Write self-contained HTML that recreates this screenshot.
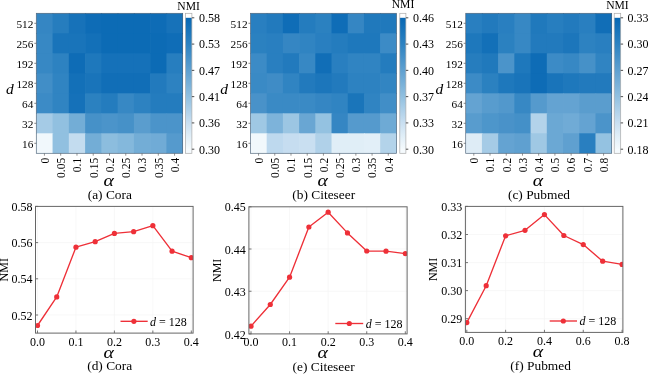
<!DOCTYPE html>
<html><head><meta charset="utf-8"><title>Figure</title>
<style>html,body{margin:0;padding:0;background:#fff}body{width:648px;height:374px;overflow:hidden}</style>
</head><body>
<svg width="648" height="374" viewBox="0 0 648 374" style="display:block;font-family:'Liberation Serif',serif" fill="#000">
<rect width="648" height="374" fill="#fff"/>
<g>
<clipPath id="h36"><rect x="36.30" y="13.30" width="146.40" height="140.00"/></clipPath>
<g clip-path="url(#h36)">
<rect x="36.30" y="13.30" width="16.97" height="20.70" fill="rgb(53,134,195)"/>
<rect x="52.57" y="13.30" width="16.97" height="20.70" fill="rgb(38,125,190)"/>
<rect x="68.83" y="13.30" width="16.97" height="20.70" fill="rgb(23,114,185)"/>
<rect x="85.10" y="13.30" width="16.97" height="20.70" fill="rgb(14,108,182)"/>
<rect x="101.37" y="13.30" width="16.97" height="20.70" fill="rgb(12,107,181)"/>
<rect x="117.63" y="13.30" width="16.97" height="20.70" fill="rgb(12,107,181)"/>
<rect x="133.90" y="13.30" width="16.97" height="20.70" fill="rgb(12,107,181)"/>
<rect x="150.17" y="13.30" width="16.97" height="20.70" fill="rgb(14,108,182)"/>
<rect x="166.43" y="13.30" width="16.97" height="20.70" fill="rgb(23,114,185)"/>
<rect x="36.30" y="33.30" width="16.97" height="20.70" fill="rgb(55,136,196)"/>
<rect x="52.57" y="33.30" width="16.97" height="20.70" fill="rgb(25,116,186)"/>
<rect x="68.83" y="33.30" width="16.97" height="20.70" fill="rgb(25,116,186)"/>
<rect x="85.10" y="33.30" width="16.97" height="20.70" fill="rgb(19,112,184)"/>
<rect x="101.37" y="33.30" width="16.97" height="20.70" fill="rgb(12,107,181)"/>
<rect x="117.63" y="33.30" width="16.97" height="20.70" fill="rgb(12,107,181)"/>
<rect x="133.90" y="33.30" width="16.97" height="20.70" fill="rgb(12,107,181)"/>
<rect x="150.17" y="33.30" width="16.97" height="20.70" fill="rgb(12,107,181)"/>
<rect x="166.43" y="33.30" width="16.97" height="20.70" fill="rgb(15,109,183)"/>
<rect x="36.30" y="53.30" width="16.97" height="20.70" fill="rgb(55,136,196)"/>
<rect x="52.57" y="53.30" width="16.97" height="20.70" fill="rgb(45,130,193)"/>
<rect x="68.83" y="53.30" width="16.97" height="20.70" fill="rgb(14,108,182)"/>
<rect x="85.10" y="53.30" width="16.97" height="20.70" fill="rgb(30,120,188)"/>
<rect x="101.37" y="53.30" width="16.97" height="20.70" fill="rgb(21,113,185)"/>
<rect x="117.63" y="53.30" width="16.97" height="20.70" fill="rgb(21,113,185)"/>
<rect x="133.90" y="53.30" width="16.97" height="20.70" fill="rgb(21,113,185)"/>
<rect x="150.17" y="53.30" width="16.97" height="20.70" fill="rgb(12,107,181)"/>
<rect x="166.43" y="53.30" width="16.97" height="20.70" fill="rgb(39,126,191)"/>
<rect x="36.30" y="73.30" width="16.97" height="20.70" fill="rgb(65,142,199)"/>
<rect x="52.57" y="73.30" width="16.97" height="20.70" fill="rgb(48,132,194)"/>
<rect x="68.83" y="73.30" width="16.97" height="20.70" fill="rgb(19,112,184)"/>
<rect x="85.10" y="73.30" width="16.97" height="20.70" fill="rgb(25,116,186)"/>
<rect x="101.37" y="73.30" width="16.97" height="20.70" fill="rgb(17,110,183)"/>
<rect x="117.63" y="73.30" width="16.97" height="20.70" fill="rgb(17,110,183)"/>
<rect x="133.90" y="73.30" width="16.97" height="20.70" fill="rgb(17,110,183)"/>
<rect x="150.17" y="73.30" width="16.97" height="20.70" fill="rgb(34,122,189)"/>
<rect x="166.43" y="73.30" width="16.97" height="20.70" fill="rgb(45,130,193)"/>
<rect x="36.30" y="93.30" width="16.97" height="20.70" fill="rgb(60,139,198)"/>
<rect x="52.57" y="93.30" width="16.97" height="20.70" fill="rgb(48,132,194)"/>
<rect x="68.83" y="93.30" width="16.97" height="20.70" fill="rgb(21,113,185)"/>
<rect x="85.10" y="93.30" width="16.97" height="20.70" fill="rgb(43,129,192)"/>
<rect x="101.37" y="93.30" width="16.97" height="20.70" fill="rgb(36,124,190)"/>
<rect x="117.63" y="93.30" width="16.97" height="20.70" fill="rgb(55,136,196)"/>
<rect x="133.90" y="93.30" width="16.97" height="20.70" fill="rgb(45,130,193)"/>
<rect x="150.17" y="93.30" width="16.97" height="20.70" fill="rgb(36,124,190)"/>
<rect x="166.43" y="93.30" width="16.97" height="20.70" fill="rgb(36,124,190)"/>
<rect x="36.30" y="113.30" width="16.97" height="20.70" fill="rgb(165,203,230)"/>
<rect x="52.57" y="113.30" width="16.97" height="20.70" fill="rgb(145,192,224)"/>
<rect x="68.83" y="113.30" width="16.97" height="20.70" fill="rgb(115,173,214)"/>
<rect x="85.10" y="113.30" width="16.97" height="20.70" fill="rgb(70,145,200)"/>
<rect x="101.37" y="113.30" width="16.97" height="20.70" fill="rgb(75,148,202)"/>
<rect x="117.63" y="113.30" width="16.97" height="20.70" fill="rgb(70,145,200)"/>
<rect x="133.90" y="113.30" width="16.97" height="20.70" fill="rgb(90,157,206)"/>
<rect x="150.17" y="113.30" width="16.97" height="20.70" fill="rgb(75,148,202)"/>
<rect x="166.43" y="113.30" width="16.97" height="20.70" fill="rgb(75,148,202)"/>
<rect x="36.30" y="133.30" width="16.97" height="20.70" fill="rgb(241,248,252)"/>
<rect x="52.57" y="133.30" width="16.97" height="20.70" fill="rgb(145,192,224)"/>
<rect x="68.83" y="133.30" width="16.97" height="20.70" fill="rgb(195,220,239)"/>
<rect x="85.10" y="133.30" width="16.97" height="20.70" fill="rgb(115,173,214)"/>
<rect x="101.37" y="133.30" width="16.97" height="20.70" fill="rgb(140,189,222)"/>
<rect x="117.63" y="133.30" width="16.97" height="20.70" fill="rgb(132,184,220)"/>
<rect x="133.90" y="133.30" width="16.97" height="20.70" fill="rgb(115,173,214)"/>
<rect x="150.17" y="133.30" width="16.97" height="20.70" fill="rgb(112,171,214)"/>
<rect x="166.43" y="133.30" width="16.97" height="20.70" fill="rgb(85,154,205)"/>
</g>
<rect x="36.30" y="13.30" width="146.40" height="140.00" fill="none" stroke="#1d3a55" stroke-opacity="0.75" stroke-width="0.7"/>
<line x1="34.30" x2="36.30" y1="23.30" y2="23.30" stroke="#555" stroke-width="0.7"/>
<text x="33.40" y="27.80" font-size="11.3" text-anchor="end">512</text>
<line x1="34.30" x2="36.30" y1="43.30" y2="43.30" stroke="#555" stroke-width="0.7"/>
<text x="33.40" y="47.80" font-size="11.3" text-anchor="end">256</text>
<line x1="34.30" x2="36.30" y1="63.30" y2="63.30" stroke="#555" stroke-width="0.7"/>
<text x="33.40" y="67.80" font-size="11.3" text-anchor="end">192</text>
<line x1="34.30" x2="36.30" y1="83.30" y2="83.30" stroke="#555" stroke-width="0.7"/>
<text x="33.40" y="87.80" font-size="11.3" text-anchor="end">128</text>
<line x1="34.30" x2="36.30" y1="103.30" y2="103.30" stroke="#555" stroke-width="0.7"/>
<text x="33.40" y="107.80" font-size="11.3" text-anchor="end">64</text>
<line x1="34.30" x2="36.30" y1="123.30" y2="123.30" stroke="#555" stroke-width="0.7"/>
<text x="33.40" y="127.80" font-size="11.3" text-anchor="end">32</text>
<line x1="34.30" x2="36.30" y1="143.30" y2="143.30" stroke="#555" stroke-width="0.7"/>
<text x="33.40" y="147.80" font-size="11.3" text-anchor="end">16</text>
<text x="6.00" y="94.4" font-size="15.5" font-style="italic">d</text>
<line x1="44.43" x2="44.43" y1="153.30" y2="155.70" stroke="#666" stroke-width="0.7"/>
<text transform="translate(48.73,157.80) rotate(-90)" font-size="11.5" text-anchor="end">0</text>
<line x1="60.70" x2="60.70" y1="153.30" y2="155.70" stroke="#666" stroke-width="0.7"/>
<text transform="translate(65.00,157.80) rotate(-90)" font-size="11.5" text-anchor="end">0.05</text>
<line x1="76.97" x2="76.97" y1="153.30" y2="155.70" stroke="#666" stroke-width="0.7"/>
<text transform="translate(81.27,157.80) rotate(-90)" font-size="11.5" text-anchor="end">0.1</text>
<line x1="93.23" x2="93.23" y1="153.30" y2="155.70" stroke="#666" stroke-width="0.7"/>
<text transform="translate(97.53,157.80) rotate(-90)" font-size="11.5" text-anchor="end">0.15</text>
<line x1="109.50" x2="109.50" y1="153.30" y2="155.70" stroke="#666" stroke-width="0.7"/>
<text transform="translate(113.80,157.80) rotate(-90)" font-size="11.5" text-anchor="end">0.2</text>
<line x1="125.77" x2="125.77" y1="153.30" y2="155.70" stroke="#666" stroke-width="0.7"/>
<text transform="translate(130.07,157.80) rotate(-90)" font-size="11.5" text-anchor="end">0.25</text>
<line x1="142.03" x2="142.03" y1="153.30" y2="155.70" stroke="#666" stroke-width="0.7"/>
<text transform="translate(146.33,157.80) rotate(-90)" font-size="11.5" text-anchor="end">0.3</text>
<line x1="158.30" x2="158.30" y1="153.30" y2="155.70" stroke="#666" stroke-width="0.7"/>
<text transform="translate(162.60,157.80) rotate(-90)" font-size="11.5" text-anchor="end">0.35</text>
<line x1="174.57" x2="174.57" y1="153.30" y2="155.70" stroke="#666" stroke-width="0.7"/>
<text transform="translate(178.87,157.80) rotate(-90)" font-size="11.5" text-anchor="end">0.4</text>
<text transform="translate(108.7,185.9) scale(1.2,1)" font-size="16.5" font-style="italic" text-anchor="middle">α</text>
<text x="109.80" y="199.4" font-size="13.4" text-anchor="middle">(a) Cora</text>
<defs><linearGradient id="g36" x1="0" y1="1" x2="0" y2="0">
<stop offset="0.0" stop-color="rgb(245,250,253)"/>
<stop offset="0.1" stop-color="rgb(224,238,247)"/>
<stop offset="0.2" stop-color="rgb(201,223,241)"/>
<stop offset="0.4" stop-color="rgb(145,192,224)"/>
<stop offset="0.6" stop-color="rgb(95,160,208)"/>
<stop offset="0.8" stop-color="rgb(45,130,193)"/>
<stop offset="1.0" stop-color="rgb(8,104,180)"/>
</linearGradient></defs>
<rect x="185.40" y="13.30" width="6.5" height="140.00" fill="#fff"/>
<rect x="185.40" y="17.8" width="6.5" height="131.40" fill="url(#g36)"/>
<rect x="185.40" y="149.2" width="6.5" height="4.10" fill="rgb(245,250,253)"/>
<rect x="185.40" y="13.30" width="6.5" height="140.00" fill="none" stroke="#aaa" stroke-width="0.7"/>
<line x1="191.90" x2="194.30" y1="17.80" y2="17.80" stroke="#222" stroke-width="0.8"/>
<text x="199.0" y="22.10" font-size="12">0.58</text>
<line x1="191.90" x2="194.30" y1="44.08" y2="44.08" stroke="#222" stroke-width="0.8"/>
<text x="199.0" y="48.38" font-size="12">0.53</text>
<line x1="191.90" x2="194.30" y1="70.36" y2="70.36" stroke="#222" stroke-width="0.8"/>
<text x="199.0" y="74.66" font-size="12">0.47</text>
<line x1="191.90" x2="194.30" y1="96.64" y2="96.64" stroke="#222" stroke-width="0.8"/>
<text x="199.0" y="100.94" font-size="12">0.41</text>
<line x1="191.90" x2="194.30" y1="122.92" y2="122.92" stroke="#222" stroke-width="0.8"/>
<text x="199.0" y="127.22" font-size="12">0.36</text>
<line x1="191.90" x2="194.30" y1="149.20" y2="149.20" stroke="#222" stroke-width="0.8"/>
<text x="199.0" y="153.50" font-size="12">0.30</text>
<text x="188.6" y="10.4" font-size="11.6" text-anchor="middle">NMI</text>
</g>
<g>
<clipPath id="h250"><rect x="250.45" y="13.30" width="145.95" height="140.00"/></clipPath>
<g clip-path="url(#h250)">
<rect x="250.45" y="13.30" width="16.92" height="20.70" fill="rgb(41,127,192)"/>
<rect x="266.67" y="13.30" width="16.92" height="20.70" fill="rgb(34,122,189)"/>
<rect x="282.88" y="13.30" width="16.92" height="20.70" fill="rgb(15,109,183)"/>
<rect x="299.10" y="13.30" width="16.92" height="20.70" fill="rgb(36,124,190)"/>
<rect x="315.32" y="13.30" width="16.92" height="20.70" fill="rgb(43,129,192)"/>
<rect x="331.53" y="13.30" width="16.92" height="20.70" fill="rgb(15,109,183)"/>
<rect x="347.75" y="13.30" width="16.92" height="20.70" fill="rgb(53,134,195)"/>
<rect x="363.97" y="13.30" width="16.92" height="20.70" fill="rgb(32,121,188)"/>
<rect x="380.18" y="13.30" width="16.92" height="20.70" fill="rgb(32,121,188)"/>
<rect x="250.45" y="33.30" width="16.92" height="20.70" fill="rgb(43,129,192)"/>
<rect x="266.67" y="33.30" width="16.92" height="20.70" fill="rgb(41,127,192)"/>
<rect x="282.88" y="33.30" width="16.92" height="20.70" fill="rgb(53,134,195)"/>
<rect x="299.10" y="33.30" width="16.92" height="20.70" fill="rgb(48,132,194)"/>
<rect x="315.32" y="33.30" width="16.92" height="20.70" fill="rgb(41,127,192)"/>
<rect x="331.53" y="33.30" width="16.92" height="20.70" fill="rgb(36,124,190)"/>
<rect x="347.75" y="33.30" width="16.92" height="20.70" fill="rgb(30,120,188)"/>
<rect x="363.97" y="33.30" width="16.92" height="20.70" fill="rgb(30,120,188)"/>
<rect x="380.18" y="33.30" width="16.92" height="20.70" fill="rgb(60,139,198)"/>
<rect x="250.45" y="53.30" width="16.92" height="20.70" fill="rgb(60,139,198)"/>
<rect x="266.67" y="53.30" width="16.92" height="20.70" fill="rgb(41,127,192)"/>
<rect x="282.88" y="53.30" width="16.92" height="20.70" fill="rgb(34,122,189)"/>
<rect x="299.10" y="53.30" width="16.92" height="20.70" fill="rgb(55,136,196)"/>
<rect x="315.32" y="53.30" width="16.92" height="20.70" fill="rgb(17,110,183)"/>
<rect x="331.53" y="53.30" width="16.92" height="20.70" fill="rgb(41,127,192)"/>
<rect x="347.75" y="53.30" width="16.92" height="20.70" fill="rgb(48,132,194)"/>
<rect x="363.97" y="53.30" width="16.92" height="20.70" fill="rgb(48,132,194)"/>
<rect x="380.18" y="53.30" width="16.92" height="20.70" fill="rgb(36,124,190)"/>
<rect x="250.45" y="73.30" width="16.92" height="20.70" fill="rgb(58,138,197)"/>
<rect x="266.67" y="73.30" width="16.92" height="20.70" fill="rgb(63,140,198)"/>
<rect x="282.88" y="73.30" width="16.92" height="20.70" fill="rgb(48,132,194)"/>
<rect x="299.10" y="73.30" width="16.92" height="20.70" fill="rgb(34,122,189)"/>
<rect x="315.32" y="73.30" width="16.92" height="20.70" fill="rgb(28,118,187)"/>
<rect x="331.53" y="73.30" width="16.92" height="20.70" fill="rgb(34,122,189)"/>
<rect x="347.75" y="73.30" width="16.92" height="20.70" fill="rgb(45,130,193)"/>
<rect x="363.97" y="73.30" width="16.92" height="20.70" fill="rgb(45,130,193)"/>
<rect x="380.18" y="73.30" width="16.92" height="20.70" fill="rgb(50,133,194)"/>
<rect x="250.45" y="93.30" width="16.92" height="20.70" fill="rgb(73,146,201)"/>
<rect x="266.67" y="93.30" width="16.92" height="20.70" fill="rgb(58,138,197)"/>
<rect x="282.88" y="93.30" width="16.92" height="20.70" fill="rgb(58,138,197)"/>
<rect x="299.10" y="93.30" width="16.92" height="20.70" fill="rgb(58,138,197)"/>
<rect x="315.32" y="93.30" width="16.92" height="20.70" fill="rgb(53,134,195)"/>
<rect x="331.53" y="93.30" width="16.92" height="20.70" fill="rgb(48,132,194)"/>
<rect x="347.75" y="93.30" width="16.92" height="20.70" fill="rgb(26,117,186)"/>
<rect x="363.97" y="93.30" width="16.92" height="20.70" fill="rgb(48,132,194)"/>
<rect x="380.18" y="93.30" width="16.92" height="20.70" fill="rgb(65,142,199)"/>
<rect x="250.45" y="113.30" width="16.92" height="20.70" fill="rgb(159,200,228)"/>
<rect x="266.67" y="113.30" width="16.92" height="20.70" fill="rgb(125,179,218)"/>
<rect x="282.88" y="113.30" width="16.92" height="20.70" fill="rgb(156,198,227)"/>
<rect x="299.10" y="113.30" width="16.92" height="20.70" fill="rgb(105,166,211)"/>
<rect x="315.32" y="113.30" width="16.92" height="20.70" fill="rgb(148,194,225)"/>
<rect x="331.53" y="113.30" width="16.92" height="20.70" fill="rgb(53,134,195)"/>
<rect x="347.75" y="113.30" width="16.92" height="20.70" fill="rgb(85,154,205)"/>
<rect x="363.97" y="113.30" width="16.92" height="20.70" fill="rgb(85,154,205)"/>
<rect x="380.18" y="113.30" width="16.92" height="20.70" fill="rgb(110,170,213)"/>
<rect x="250.45" y="133.30" width="16.92" height="20.70" fill="rgb(241,248,252)"/>
<rect x="266.67" y="133.30" width="16.92" height="20.70" fill="rgb(190,217,238)"/>
<rect x="282.88" y="133.30" width="16.92" height="20.70" fill="rgb(198,221,240)"/>
<rect x="299.10" y="133.30" width="16.92" height="20.70" fill="rgb(201,223,241)"/>
<rect x="315.32" y="133.30" width="16.92" height="20.70" fill="rgb(176,209,233)"/>
<rect x="331.53" y="133.30" width="16.92" height="20.70" fill="rgb(224,238,247)"/>
<rect x="347.75" y="133.30" width="16.92" height="20.70" fill="rgb(224,238,247)"/>
<rect x="363.97" y="133.30" width="16.92" height="20.70" fill="rgb(226,239,248)"/>
<rect x="380.18" y="133.30" width="16.92" height="20.70" fill="rgb(179,211,234)"/>
</g>
<rect x="250.45" y="13.30" width="145.95" height="140.00" fill="none" stroke="#1d3a55" stroke-opacity="0.75" stroke-width="0.7"/>
<line x1="248.45" x2="250.45" y1="23.30" y2="23.30" stroke="#555" stroke-width="0.7"/>
<text x="247.55" y="27.80" font-size="11.3" text-anchor="end">512</text>
<line x1="248.45" x2="250.45" y1="43.30" y2="43.30" stroke="#555" stroke-width="0.7"/>
<text x="247.55" y="47.80" font-size="11.3" text-anchor="end">256</text>
<line x1="248.45" x2="250.45" y1="63.30" y2="63.30" stroke="#555" stroke-width="0.7"/>
<text x="247.55" y="67.80" font-size="11.3" text-anchor="end">192</text>
<line x1="248.45" x2="250.45" y1="83.30" y2="83.30" stroke="#555" stroke-width="0.7"/>
<text x="247.55" y="87.80" font-size="11.3" text-anchor="end">128</text>
<line x1="248.45" x2="250.45" y1="103.30" y2="103.30" stroke="#555" stroke-width="0.7"/>
<text x="247.55" y="107.80" font-size="11.3" text-anchor="end">64</text>
<line x1="248.45" x2="250.45" y1="123.30" y2="123.30" stroke="#555" stroke-width="0.7"/>
<text x="247.55" y="127.80" font-size="11.3" text-anchor="end">32</text>
<line x1="248.45" x2="250.45" y1="143.30" y2="143.30" stroke="#555" stroke-width="0.7"/>
<text x="247.55" y="147.80" font-size="11.3" text-anchor="end">16</text>
<text x="220.15" y="94.4" font-size="15.5" font-style="italic">d</text>
<line x1="258.56" x2="258.56" y1="153.30" y2="155.70" stroke="#666" stroke-width="0.7"/>
<text transform="translate(262.86,157.80) rotate(-90)" font-size="11.5" text-anchor="end">0</text>
<line x1="274.77" x2="274.77" y1="153.30" y2="155.70" stroke="#666" stroke-width="0.7"/>
<text transform="translate(279.07,157.80) rotate(-90)" font-size="11.5" text-anchor="end">0.05</text>
<line x1="290.99" x2="290.99" y1="153.30" y2="155.70" stroke="#666" stroke-width="0.7"/>
<text transform="translate(295.29,157.80) rotate(-90)" font-size="11.5" text-anchor="end">0.1</text>
<line x1="307.21" x2="307.21" y1="153.30" y2="155.70" stroke="#666" stroke-width="0.7"/>
<text transform="translate(311.51,157.80) rotate(-90)" font-size="11.5" text-anchor="end">0.15</text>
<line x1="323.42" x2="323.42" y1="153.30" y2="155.70" stroke="#666" stroke-width="0.7"/>
<text transform="translate(327.72,157.80) rotate(-90)" font-size="11.5" text-anchor="end">0.2</text>
<line x1="339.64" x2="339.64" y1="153.30" y2="155.70" stroke="#666" stroke-width="0.7"/>
<text transform="translate(343.94,157.80) rotate(-90)" font-size="11.5" text-anchor="end">0.25</text>
<line x1="355.86" x2="355.86" y1="153.30" y2="155.70" stroke="#666" stroke-width="0.7"/>
<text transform="translate(360.16,157.80) rotate(-90)" font-size="11.5" text-anchor="end">0.3</text>
<line x1="372.07" x2="372.07" y1="153.30" y2="155.70" stroke="#666" stroke-width="0.7"/>
<text transform="translate(376.38,157.80) rotate(-90)" font-size="11.5" text-anchor="end">0.35</text>
<line x1="388.29" x2="388.29" y1="153.30" y2="155.70" stroke="#666" stroke-width="0.7"/>
<text transform="translate(392.59,157.80) rotate(-90)" font-size="11.5" text-anchor="end">0.4</text>
<text transform="translate(322.8,185.9) scale(1.2,1)" font-size="16.5" font-style="italic" text-anchor="middle">α</text>
<text x="323.72" y="199.4" font-size="13.4" text-anchor="middle">(b) Citeseer</text>
<defs><linearGradient id="g250" x1="0" y1="1" x2="0" y2="0">
<stop offset="0.0" stop-color="rgb(245,250,253)"/>
<stop offset="0.1" stop-color="rgb(224,238,247)"/>
<stop offset="0.2" stop-color="rgb(201,223,241)"/>
<stop offset="0.4" stop-color="rgb(145,192,224)"/>
<stop offset="0.6" stop-color="rgb(95,160,208)"/>
<stop offset="0.8" stop-color="rgb(45,130,193)"/>
<stop offset="1.0" stop-color="rgb(8,104,180)"/>
</linearGradient></defs>
<rect x="399.80" y="13.30" width="6.099999999999966" height="140.00" fill="#fff"/>
<rect x="399.80" y="17.8" width="6.099999999999966" height="131.40" fill="url(#g250)"/>
<rect x="399.80" y="149.2" width="6.099999999999966" height="4.10" fill="rgb(245,250,253)"/>
<rect x="399.80" y="13.30" width="6.099999999999966" height="140.00" fill="none" stroke="#aaa" stroke-width="0.7"/>
<line x1="405.90" x2="408.30" y1="17.80" y2="17.80" stroke="#222" stroke-width="0.8"/>
<text x="412.95" y="22.10" font-size="12">0.46</text>
<line x1="405.90" x2="408.30" y1="44.08" y2="44.08" stroke="#222" stroke-width="0.8"/>
<text x="412.95" y="48.38" font-size="12">0.43</text>
<line x1="405.90" x2="408.30" y1="70.36" y2="70.36" stroke="#222" stroke-width="0.8"/>
<text x="412.95" y="74.66" font-size="12">0.40</text>
<line x1="405.90" x2="408.30" y1="96.64" y2="96.64" stroke="#222" stroke-width="0.8"/>
<text x="412.95" y="100.94" font-size="12">0.37</text>
<line x1="405.90" x2="408.30" y1="122.92" y2="122.92" stroke="#222" stroke-width="0.8"/>
<text x="412.95" y="127.22" font-size="12">0.33</text>
<line x1="405.90" x2="408.30" y1="149.20" y2="149.20" stroke="#222" stroke-width="0.8"/>
<text x="412.95" y="153.50" font-size="12">0.30</text>
<text x="403.0" y="7.8" font-size="11.6" text-anchor="middle">NMI</text>
</g>
<g>
<clipPath id="h465"><rect x="465.70" y="13.30" width="146.00" height="140.00"/></clipPath>
<g clip-path="url(#h465)">
<rect x="465.70" y="13.30" width="16.92" height="20.70" fill="rgb(41,127,192)"/>
<rect x="481.92" y="13.30" width="16.92" height="20.70" fill="rgb(34,122,189)"/>
<rect x="498.14" y="13.30" width="16.92" height="20.70" fill="rgb(41,127,192)"/>
<rect x="514.37" y="13.30" width="16.92" height="20.70" fill="rgb(55,136,196)"/>
<rect x="530.59" y="13.30" width="16.92" height="20.70" fill="rgb(32,121,188)"/>
<rect x="546.81" y="13.30" width="16.92" height="20.70" fill="rgb(39,126,191)"/>
<rect x="563.03" y="13.30" width="16.92" height="20.70" fill="rgb(34,122,189)"/>
<rect x="579.26" y="13.30" width="16.92" height="20.70" fill="rgb(41,127,192)"/>
<rect x="595.48" y="13.30" width="16.92" height="20.70" fill="rgb(17,110,183)"/>
<rect x="465.70" y="33.30" width="16.92" height="20.70" fill="rgb(30,120,188)"/>
<rect x="481.92" y="33.30" width="16.92" height="20.70" fill="rgb(19,112,184)"/>
<rect x="498.14" y="33.30" width="16.92" height="20.70" fill="rgb(43,129,192)"/>
<rect x="514.37" y="33.30" width="16.92" height="20.70" fill="rgb(55,136,196)"/>
<rect x="530.59" y="33.30" width="16.92" height="20.70" fill="rgb(34,122,189)"/>
<rect x="546.81" y="33.30" width="16.92" height="20.70" fill="rgb(34,122,189)"/>
<rect x="563.03" y="33.30" width="16.92" height="20.70" fill="rgb(28,118,187)"/>
<rect x="579.26" y="33.30" width="16.92" height="20.70" fill="rgb(45,130,193)"/>
<rect x="595.48" y="33.30" width="16.92" height="20.70" fill="rgb(41,127,192)"/>
<rect x="465.70" y="53.30" width="16.92" height="20.70" fill="rgb(38,125,190)"/>
<rect x="481.92" y="53.30" width="16.92" height="20.70" fill="rgb(32,121,188)"/>
<rect x="498.14" y="53.30" width="16.92" height="20.70" fill="rgb(75,148,202)"/>
<rect x="514.37" y="53.30" width="16.92" height="20.70" fill="rgb(30,120,188)"/>
<rect x="530.59" y="53.30" width="16.92" height="20.70" fill="rgb(14,108,182)"/>
<rect x="546.81" y="53.30" width="16.92" height="20.70" fill="rgb(60,139,198)"/>
<rect x="563.03" y="53.30" width="16.92" height="20.70" fill="rgb(55,136,196)"/>
<rect x="579.26" y="53.30" width="16.92" height="20.70" fill="rgb(70,145,200)"/>
<rect x="595.48" y="53.30" width="16.92" height="20.70" fill="rgb(48,132,194)"/>
<rect x="465.70" y="73.30" width="16.92" height="20.70" fill="rgb(60,139,198)"/>
<rect x="481.92" y="73.30" width="16.92" height="20.70" fill="rgb(43,129,192)"/>
<rect x="498.14" y="73.30" width="16.92" height="20.70" fill="rgb(30,120,188)"/>
<rect x="514.37" y="73.30" width="16.92" height="20.70" fill="rgb(25,116,186)"/>
<rect x="530.59" y="73.30" width="16.92" height="20.70" fill="rgb(14,108,182)"/>
<rect x="546.81" y="73.30" width="16.92" height="20.70" fill="rgb(25,116,186)"/>
<rect x="563.03" y="73.30" width="16.92" height="20.70" fill="rgb(30,120,188)"/>
<rect x="579.26" y="73.30" width="16.92" height="20.70" fill="rgb(34,122,189)"/>
<rect x="595.48" y="73.30" width="16.92" height="20.70" fill="rgb(34,122,189)"/>
<rect x="465.70" y="93.30" width="16.92" height="20.70" fill="rgb(100,163,210)"/>
<rect x="481.92" y="93.30" width="16.92" height="20.70" fill="rgb(88,156,206)"/>
<rect x="498.14" y="93.30" width="16.92" height="20.70" fill="rgb(82,152,204)"/>
<rect x="514.37" y="93.30" width="16.92" height="20.70" fill="rgb(55,136,196)"/>
<rect x="530.59" y="93.30" width="16.92" height="20.70" fill="rgb(85,154,205)"/>
<rect x="546.81" y="93.30" width="16.92" height="20.70" fill="rgb(100,163,210)"/>
<rect x="563.03" y="93.30" width="16.92" height="20.70" fill="rgb(100,163,210)"/>
<rect x="579.26" y="93.30" width="16.92" height="20.70" fill="rgb(90,157,206)"/>
<rect x="595.48" y="93.30" width="16.92" height="20.70" fill="rgb(90,157,206)"/>
<rect x="465.70" y="113.30" width="16.92" height="20.70" fill="rgb(88,156,206)"/>
<rect x="481.92" y="113.30" width="16.92" height="20.70" fill="rgb(77,150,203)"/>
<rect x="498.14" y="113.30" width="16.92" height="20.70" fill="rgb(73,146,201)"/>
<rect x="514.37" y="113.30" width="16.92" height="20.70" fill="rgb(68,144,200)"/>
<rect x="530.59" y="113.30" width="16.92" height="20.70" fill="rgb(179,211,234)"/>
<rect x="546.81" y="113.30" width="16.92" height="20.70" fill="rgb(107,168,212)"/>
<rect x="563.03" y="113.30" width="16.92" height="20.70" fill="rgb(112,171,214)"/>
<rect x="579.26" y="113.30" width="16.92" height="20.70" fill="rgb(100,163,210)"/>
<rect x="595.48" y="113.30" width="16.92" height="20.70" fill="rgb(75,148,202)"/>
<rect x="465.70" y="133.30" width="16.92" height="20.70" fill="rgb(222,236,246)"/>
<rect x="481.92" y="133.30" width="16.92" height="20.70" fill="rgb(165,203,230)"/>
<rect x="498.14" y="133.30" width="16.92" height="20.70" fill="rgb(100,163,210)"/>
<rect x="514.37" y="133.30" width="16.92" height="20.70" fill="rgb(95,160,208)"/>
<rect x="530.59" y="133.30" width="16.92" height="20.70" fill="rgb(159,200,228)"/>
<rect x="546.81" y="133.30" width="16.92" height="20.70" fill="rgb(107,168,212)"/>
<rect x="563.03" y="133.30" width="16.92" height="20.70" fill="rgb(95,160,208)"/>
<rect x="579.26" y="133.30" width="16.92" height="20.70" fill="rgb(41,127,192)"/>
<rect x="595.48" y="133.30" width="16.92" height="20.70" fill="rgb(148,194,225)"/>
</g>
<rect x="465.70" y="13.30" width="146.00" height="140.00" fill="none" stroke="#1d3a55" stroke-opacity="0.75" stroke-width="0.7"/>
<line x1="463.70" x2="465.70" y1="23.30" y2="23.30" stroke="#555" stroke-width="0.7"/>
<text x="462.80" y="27.80" font-size="11.3" text-anchor="end">512</text>
<line x1="463.70" x2="465.70" y1="43.30" y2="43.30" stroke="#555" stroke-width="0.7"/>
<text x="462.80" y="47.80" font-size="11.3" text-anchor="end">256</text>
<line x1="463.70" x2="465.70" y1="63.30" y2="63.30" stroke="#555" stroke-width="0.7"/>
<text x="462.80" y="67.80" font-size="11.3" text-anchor="end">192</text>
<line x1="463.70" x2="465.70" y1="83.30" y2="83.30" stroke="#555" stroke-width="0.7"/>
<text x="462.80" y="87.80" font-size="11.3" text-anchor="end">128</text>
<line x1="463.70" x2="465.70" y1="103.30" y2="103.30" stroke="#555" stroke-width="0.7"/>
<text x="462.80" y="107.80" font-size="11.3" text-anchor="end">64</text>
<line x1="463.70" x2="465.70" y1="123.30" y2="123.30" stroke="#555" stroke-width="0.7"/>
<text x="462.80" y="127.80" font-size="11.3" text-anchor="end">32</text>
<line x1="463.70" x2="465.70" y1="143.30" y2="143.30" stroke="#555" stroke-width="0.7"/>
<text x="462.80" y="147.80" font-size="11.3" text-anchor="end">16</text>
<text x="435.40" y="94.4" font-size="15.5" font-style="italic">d</text>
<line x1="473.81" x2="473.81" y1="153.30" y2="155.70" stroke="#666" stroke-width="0.7"/>
<text transform="translate(478.11,157.80) rotate(-90)" font-size="11.5" text-anchor="end">0</text>
<line x1="490.03" x2="490.03" y1="153.30" y2="155.70" stroke="#666" stroke-width="0.7"/>
<text transform="translate(494.33,157.80) rotate(-90)" font-size="11.5" text-anchor="end">0.1</text>
<line x1="506.26" x2="506.26" y1="153.30" y2="155.70" stroke="#666" stroke-width="0.7"/>
<text transform="translate(510.56,157.80) rotate(-90)" font-size="11.5" text-anchor="end">0.2</text>
<line x1="522.48" x2="522.48" y1="153.30" y2="155.70" stroke="#666" stroke-width="0.7"/>
<text transform="translate(526.78,157.80) rotate(-90)" font-size="11.5" text-anchor="end">0.3</text>
<line x1="538.70" x2="538.70" y1="153.30" y2="155.70" stroke="#666" stroke-width="0.7"/>
<text transform="translate(543.00,157.80) rotate(-90)" font-size="11.5" text-anchor="end">0.4</text>
<line x1="554.92" x2="554.92" y1="153.30" y2="155.70" stroke="#666" stroke-width="0.7"/>
<text transform="translate(559.22,157.80) rotate(-90)" font-size="11.5" text-anchor="end">0.5</text>
<line x1="571.14" x2="571.14" y1="153.30" y2="155.70" stroke="#666" stroke-width="0.7"/>
<text transform="translate(575.44,157.80) rotate(-90)" font-size="11.5" text-anchor="end">0.6</text>
<line x1="587.37" x2="587.37" y1="153.30" y2="155.70" stroke="#666" stroke-width="0.7"/>
<text transform="translate(591.67,157.80) rotate(-90)" font-size="11.5" text-anchor="end">0.7</text>
<line x1="603.59" x2="603.59" y1="153.30" y2="155.70" stroke="#666" stroke-width="0.7"/>
<text transform="translate(607.89,157.80) rotate(-90)" font-size="11.5" text-anchor="end">0.8</text>
<text transform="translate(538.0,185.9) scale(1.2,1)" font-size="16.5" font-style="italic" text-anchor="middle">α</text>
<text x="539.00" y="199.4" font-size="13.4" text-anchor="middle">(c) Pubmed</text>
<defs><linearGradient id="g465" x1="0" y1="1" x2="0" y2="0">
<stop offset="0.0" stop-color="rgb(245,250,253)"/>
<stop offset="0.1" stop-color="rgb(224,238,247)"/>
<stop offset="0.2" stop-color="rgb(201,223,241)"/>
<stop offset="0.4" stop-color="rgb(145,192,224)"/>
<stop offset="0.6" stop-color="rgb(95,160,208)"/>
<stop offset="0.8" stop-color="rgb(45,130,193)"/>
<stop offset="1.0" stop-color="rgb(8,104,180)"/>
</linearGradient></defs>
<rect x="614.20" y="13.30" width="6.5" height="140.00" fill="#fff"/>
<rect x="614.20" y="17.8" width="6.5" height="131.40" fill="url(#g465)"/>
<rect x="614.20" y="149.2" width="6.5" height="4.10" fill="rgb(245,250,253)"/>
<rect x="614.20" y="13.30" width="6.5" height="140.00" fill="none" stroke="#aaa" stroke-width="0.7"/>
<line x1="620.70" x2="623.10" y1="17.80" y2="17.80" stroke="#222" stroke-width="0.8"/>
<text x="627.4" y="22.10" font-size="12">0.33</text>
<line x1="620.70" x2="623.10" y1="44.08" y2="44.08" stroke="#222" stroke-width="0.8"/>
<text x="627.4" y="48.38" font-size="12">0.30</text>
<line x1="620.70" x2="623.10" y1="70.36" y2="70.36" stroke="#222" stroke-width="0.8"/>
<text x="627.4" y="74.66" font-size="12">0.27</text>
<line x1="620.70" x2="623.10" y1="96.64" y2="96.64" stroke="#222" stroke-width="0.8"/>
<text x="627.4" y="100.94" font-size="12">0.24</text>
<line x1="620.70" x2="623.10" y1="122.92" y2="122.92" stroke="#222" stroke-width="0.8"/>
<text x="627.4" y="127.22" font-size="12">0.21</text>
<line x1="620.70" x2="623.10" y1="149.20" y2="149.20" stroke="#222" stroke-width="0.8"/>
<text x="627.4" y="153.50" font-size="12">0.18</text>
<text x="617.4" y="8.7" font-size="11.6" text-anchor="middle">NMI</text>
</g>
<g>
<clipPath id="cp0"><rect x="35.5" y="206.4" width="157.60" height="126.70"/></clipPath>
<line x1="37.50" x2="37.50" y1="206.4" y2="333.1" stroke="#f5f5f5" stroke-width="0.7"/>
<line x1="75.95" x2="75.95" y1="206.4" y2="333.1" stroke="#f5f5f5" stroke-width="0.7"/>
<line x1="114.40" x2="114.40" y1="206.4" y2="333.1" stroke="#f5f5f5" stroke-width="0.7"/>
<line x1="152.85" x2="152.85" y1="206.4" y2="333.1" stroke="#f5f5f5" stroke-width="0.7"/>
<line x1="191.30" x2="191.30" y1="206.4" y2="333.1" stroke="#f5f5f5" stroke-width="0.7"/>
<line x1="35.5" x2="193.1" y1="242.6" y2="242.6" stroke="#f5f5f5" stroke-width="0.7"/>
<line x1="35.5" x2="193.1" y1="278.8" y2="278.8" stroke="#f5f5f5" stroke-width="0.7"/>
<line x1="35.5" x2="193.1" y1="315.0" y2="315.0" stroke="#f5f5f5" stroke-width="0.7"/>
<g clip-path="url(#cp0)">
<polyline points="37.50,325.50 56.73,296.90 75.95,247.20 95.18,241.70 114.40,233.40 133.62,231.70 152.85,225.70 172.08,251.20 191.30,257.70" fill="none" stroke="rgb(238,48,56)" stroke-width="1.35" stroke-linejoin="round"/>
<circle cx="37.50" cy="325.50" r="2.6" fill="rgb(238,48,56)"/>
<circle cx="56.73" cy="296.90" r="2.6" fill="rgb(238,48,56)"/>
<circle cx="75.95" cy="247.20" r="2.6" fill="rgb(238,48,56)"/>
<circle cx="95.18" cy="241.70" r="2.6" fill="rgb(238,48,56)"/>
<circle cx="114.40" cy="233.40" r="2.6" fill="rgb(238,48,56)"/>
<circle cx="133.62" cy="231.70" r="2.6" fill="rgb(238,48,56)"/>
<circle cx="152.85" cy="225.70" r="2.6" fill="rgb(238,48,56)"/>
<circle cx="172.08" cy="251.20" r="2.6" fill="rgb(238,48,56)"/>
<circle cx="191.30" cy="257.70" r="2.6" fill="rgb(238,48,56)"/>
</g>
<rect x="35.5" y="206.4" width="157.60" height="126.70" fill="none" stroke="#666" stroke-width="1"/>
<line x1="37.50" x2="37.50" y1="333.1" y2="330.5" stroke="#666" stroke-width="0.9"/>
<text x="37.50" y="345.60" font-size="12" text-anchor="middle">0.0</text>
<line x1="75.95" x2="75.95" y1="333.1" y2="330.5" stroke="#666" stroke-width="0.9"/>
<text x="75.95" y="345.60" font-size="12" text-anchor="middle">0.1</text>
<line x1="114.40" x2="114.40" y1="333.1" y2="330.5" stroke="#666" stroke-width="0.9"/>
<text x="114.40" y="345.60" font-size="12" text-anchor="middle">0.2</text>
<line x1="152.85" x2="152.85" y1="333.1" y2="330.5" stroke="#666" stroke-width="0.9"/>
<text x="152.85" y="345.60" font-size="12" text-anchor="middle">0.3</text>
<line x1="191.30" x2="191.30" y1="333.1" y2="330.5" stroke="#666" stroke-width="0.9"/>
<text x="191.30" y="345.60" font-size="12" text-anchor="middle">0.4</text>
<line x1="35.5" x2="38.1" y1="206.4" y2="206.4" stroke="#666" stroke-width="0.9"/>
<text x="32.40" y="210.90" font-size="12" text-anchor="end">0.58</text>
<line x1="35.5" x2="38.1" y1="242.6" y2="242.6" stroke="#666" stroke-width="0.9"/>
<text x="32.40" y="247.10" font-size="12" text-anchor="end">0.56</text>
<line x1="35.5" x2="38.1" y1="278.8" y2="278.8" stroke="#666" stroke-width="0.9"/>
<text x="32.40" y="283.30" font-size="12" text-anchor="end">0.54</text>
<line x1="35.5" x2="38.1" y1="315.0" y2="315.0" stroke="#666" stroke-width="0.9"/>
<text x="32.40" y="319.50" font-size="12" text-anchor="end">0.52</text>
<line x1="120.5" x2="147.7" y1="321.3" y2="321.3" stroke="rgb(238,48,56)" stroke-width="1.35"/>
<circle cx="133.9" cy="321.3" r="2.6" fill="rgb(238,48,56)"/>
<text x="150.0" y="325.6" font-size="12"><tspan font-style="italic">d</tspan> = 128</text>
<text transform="translate(7.70,269.75) rotate(-90)" font-size="12" text-anchor="middle">NMI</text>
<text transform="translate(108.6,357.6) scale(1.2,1)" font-size="16.5" font-style="italic" text-anchor="middle">α</text>
<text x="109.7" y="370.2" font-size="13.4" text-anchor="middle">(d) Cora</text>
</g>
<g>
<clipPath id="cp1"><rect x="248.9" y="206.8" width="158.20" height="127.10"/></clipPath>
<line x1="251.00" x2="251.00" y1="206.8" y2="333.9" stroke="#f5f5f5" stroke-width="0.7"/>
<line x1="289.58" x2="289.58" y1="206.8" y2="333.9" stroke="#f5f5f5" stroke-width="0.7"/>
<line x1="328.16" x2="328.16" y1="206.8" y2="333.9" stroke="#f5f5f5" stroke-width="0.7"/>
<line x1="366.74" x2="366.74" y1="206.8" y2="333.9" stroke="#f5f5f5" stroke-width="0.7"/>
<line x1="405.32" x2="405.32" y1="206.8" y2="333.9" stroke="#f5f5f5" stroke-width="0.7"/>
<line x1="248.9" x2="407.1" y1="249.0" y2="249.0" stroke="#f5f5f5" stroke-width="0.7"/>
<line x1="248.9" x2="407.1" y1="291.25" y2="291.25" stroke="#f5f5f5" stroke-width="0.7"/>
<g clip-path="url(#cp1)">
<polyline points="251.00,326.20 270.29,304.50 289.58,277.20 308.87,227.00 328.16,212.20 347.45,232.90 366.74,251.00 386.03,251.20 405.32,253.60" fill="none" stroke="rgb(238,48,56)" stroke-width="1.35" stroke-linejoin="round"/>
<circle cx="251.00" cy="326.20" r="2.6" fill="rgb(238,48,56)"/>
<circle cx="270.29" cy="304.50" r="2.6" fill="rgb(238,48,56)"/>
<circle cx="289.58" cy="277.20" r="2.6" fill="rgb(238,48,56)"/>
<circle cx="308.87" cy="227.00" r="2.6" fill="rgb(238,48,56)"/>
<circle cx="328.16" cy="212.20" r="2.6" fill="rgb(238,48,56)"/>
<circle cx="347.45" cy="232.90" r="2.6" fill="rgb(238,48,56)"/>
<circle cx="366.74" cy="251.00" r="2.6" fill="rgb(238,48,56)"/>
<circle cx="386.03" cy="251.20" r="2.6" fill="rgb(238,48,56)"/>
<circle cx="405.32" cy="253.60" r="2.6" fill="rgb(238,48,56)"/>
</g>
<rect x="248.9" y="206.8" width="158.20" height="127.10" fill="none" stroke="#666" stroke-width="1"/>
<line x1="251.00" x2="251.00" y1="333.9" y2="331.29999999999995" stroke="#666" stroke-width="0.9"/>
<text x="251.00" y="346.40" font-size="12" text-anchor="middle">0.0</text>
<line x1="289.58" x2="289.58" y1="333.9" y2="331.29999999999995" stroke="#666" stroke-width="0.9"/>
<text x="289.58" y="346.40" font-size="12" text-anchor="middle">0.1</text>
<line x1="328.16" x2="328.16" y1="333.9" y2="331.29999999999995" stroke="#666" stroke-width="0.9"/>
<text x="328.16" y="346.40" font-size="12" text-anchor="middle">0.2</text>
<line x1="366.74" x2="366.74" y1="333.9" y2="331.29999999999995" stroke="#666" stroke-width="0.9"/>
<text x="366.74" y="346.40" font-size="12" text-anchor="middle">0.3</text>
<line x1="405.32" x2="405.32" y1="333.9" y2="331.29999999999995" stroke="#666" stroke-width="0.9"/>
<text x="405.32" y="346.40" font-size="12" text-anchor="middle">0.4</text>
<line x1="248.9" x2="251.5" y1="206.8" y2="206.8" stroke="#666" stroke-width="0.9"/>
<text x="245.80" y="211.30" font-size="12" text-anchor="end">0.45</text>
<line x1="248.9" x2="251.5" y1="249.0" y2="249.0" stroke="#666" stroke-width="0.9"/>
<text x="245.80" y="253.50" font-size="12" text-anchor="end">0.44</text>
<line x1="248.9" x2="251.5" y1="291.25" y2="291.25" stroke="#666" stroke-width="0.9"/>
<text x="245.80" y="295.75" font-size="12" text-anchor="end">0.43</text>
<line x1="248.9" x2="251.5" y1="333.9" y2="333.9" stroke="#666" stroke-width="0.9"/>
<text x="245.80" y="338.90" font-size="12" text-anchor="end">0.42</text>
<line x1="335.3" x2="363.2" y1="323.5" y2="323.5" stroke="rgb(238,48,56)" stroke-width="1.35"/>
<circle cx="349.3" cy="323.5" r="2.6" fill="rgb(238,48,56)"/>
<text x="365.7" y="327.8" font-size="12"><tspan font-style="italic">d</tspan> = 128</text>
<text transform="translate(220.90,270.35) rotate(-90)" font-size="12" text-anchor="middle">NMI</text>
<text transform="translate(322.6,357.9) scale(1.2,1)" font-size="16.5" font-style="italic" text-anchor="middle">α</text>
<text x="323.6" y="370.6" font-size="13.4" text-anchor="middle">(e) Citeseer</text>
</g>
<g>
<clipPath id="cp2"><rect x="465.4" y="206.4" width="157.50" height="126.00"/></clipPath>
<line x1="466.80" x2="466.80" y1="206.4" y2="332.4" stroke="#f5f5f5" stroke-width="0.7"/>
<line x1="505.62" x2="505.62" y1="206.4" y2="332.4" stroke="#f5f5f5" stroke-width="0.7"/>
<line x1="544.44" x2="544.44" y1="206.4" y2="332.4" stroke="#f5f5f5" stroke-width="0.7"/>
<line x1="583.26" x2="583.26" y1="206.4" y2="332.4" stroke="#f5f5f5" stroke-width="0.7"/>
<line x1="622.08" x2="622.08" y1="206.4" y2="332.4" stroke="#f5f5f5" stroke-width="0.7"/>
<line x1="465.4" x2="622.9" y1="234.5" y2="234.5" stroke="#f5f5f5" stroke-width="0.7"/>
<line x1="465.4" x2="622.9" y1="262.6" y2="262.6" stroke="#f5f5f5" stroke-width="0.7"/>
<line x1="465.4" x2="622.9" y1="290.6" y2="290.6" stroke="#f5f5f5" stroke-width="0.7"/>
<line x1="465.4" x2="622.9" y1="318.7" y2="318.7" stroke="#f5f5f5" stroke-width="0.7"/>
<g clip-path="url(#cp2)">
<polyline points="466.80,322.60 486.21,285.70 505.62,235.80 525.03,230.30 544.44,214.60 563.85,235.50 583.26,244.60 602.67,261.20 622.08,264.40" fill="none" stroke="rgb(238,48,56)" stroke-width="1.35" stroke-linejoin="round"/>
<circle cx="466.80" cy="322.60" r="2.6" fill="rgb(238,48,56)"/>
<circle cx="486.21" cy="285.70" r="2.6" fill="rgb(238,48,56)"/>
<circle cx="505.62" cy="235.80" r="2.6" fill="rgb(238,48,56)"/>
<circle cx="525.03" cy="230.30" r="2.6" fill="rgb(238,48,56)"/>
<circle cx="544.44" cy="214.60" r="2.6" fill="rgb(238,48,56)"/>
<circle cx="563.85" cy="235.50" r="2.6" fill="rgb(238,48,56)"/>
<circle cx="583.26" cy="244.60" r="2.6" fill="rgb(238,48,56)"/>
<circle cx="602.67" cy="261.20" r="2.6" fill="rgb(238,48,56)"/>
<circle cx="622.08" cy="264.40" r="2.6" fill="rgb(238,48,56)"/>
</g>
<rect x="465.4" y="206.4" width="157.50" height="126.00" fill="none" stroke="#666" stroke-width="1"/>
<line x1="466.80" x2="466.80" y1="332.4" y2="329.79999999999995" stroke="#666" stroke-width="0.9"/>
<text x="466.80" y="344.90" font-size="12" text-anchor="middle">0.0</text>
<line x1="505.62" x2="505.62" y1="332.4" y2="329.79999999999995" stroke="#666" stroke-width="0.9"/>
<text x="505.62" y="344.90" font-size="12" text-anchor="middle">0.2</text>
<line x1="544.44" x2="544.44" y1="332.4" y2="329.79999999999995" stroke="#666" stroke-width="0.9"/>
<text x="544.44" y="344.90" font-size="12" text-anchor="middle">0.4</text>
<line x1="583.26" x2="583.26" y1="332.4" y2="329.79999999999995" stroke="#666" stroke-width="0.9"/>
<text x="583.26" y="344.90" font-size="12" text-anchor="middle">0.6</text>
<line x1="622.08" x2="622.08" y1="332.4" y2="329.79999999999995" stroke="#666" stroke-width="0.9"/>
<text x="622.08" y="344.90" font-size="12" text-anchor="middle">0.8</text>
<line x1="465.4" x2="468.0" y1="206.4" y2="206.4" stroke="#666" stroke-width="0.9"/>
<text x="462.30" y="210.90" font-size="12" text-anchor="end">0.33</text>
<line x1="465.4" x2="468.0" y1="234.5" y2="234.5" stroke="#666" stroke-width="0.9"/>
<text x="462.30" y="239.00" font-size="12" text-anchor="end">0.32</text>
<line x1="465.4" x2="468.0" y1="262.6" y2="262.6" stroke="#666" stroke-width="0.9"/>
<text x="462.30" y="267.10" font-size="12" text-anchor="end">0.31</text>
<line x1="465.4" x2="468.0" y1="290.6" y2="290.6" stroke="#666" stroke-width="0.9"/>
<text x="462.30" y="295.10" font-size="12" text-anchor="end">0.30</text>
<line x1="465.4" x2="468.0" y1="318.7" y2="318.7" stroke="#666" stroke-width="0.9"/>
<text x="462.30" y="323.20" font-size="12" text-anchor="end">0.29</text>
<line x1="549.7" x2="577.0" y1="321.0" y2="321.0" stroke="rgb(238,48,56)" stroke-width="1.35"/>
<circle cx="563.3" cy="321.0" r="2.6" fill="rgb(238,48,56)"/>
<text x="579.5" y="325.2" font-size="12"><tspan font-style="italic">d</tspan> = 128</text>
<text transform="translate(436.90,269.40) rotate(-90)" font-size="12" text-anchor="middle">NMI</text>
<text transform="translate(538.0,357.1) scale(1.2,1)" font-size="16.5" font-style="italic" text-anchor="middle">α</text>
<text x="540.6" y="369.8" font-size="13.4" text-anchor="middle">(f) Pubmed</text>
</g>
</svg>
</body></html>
